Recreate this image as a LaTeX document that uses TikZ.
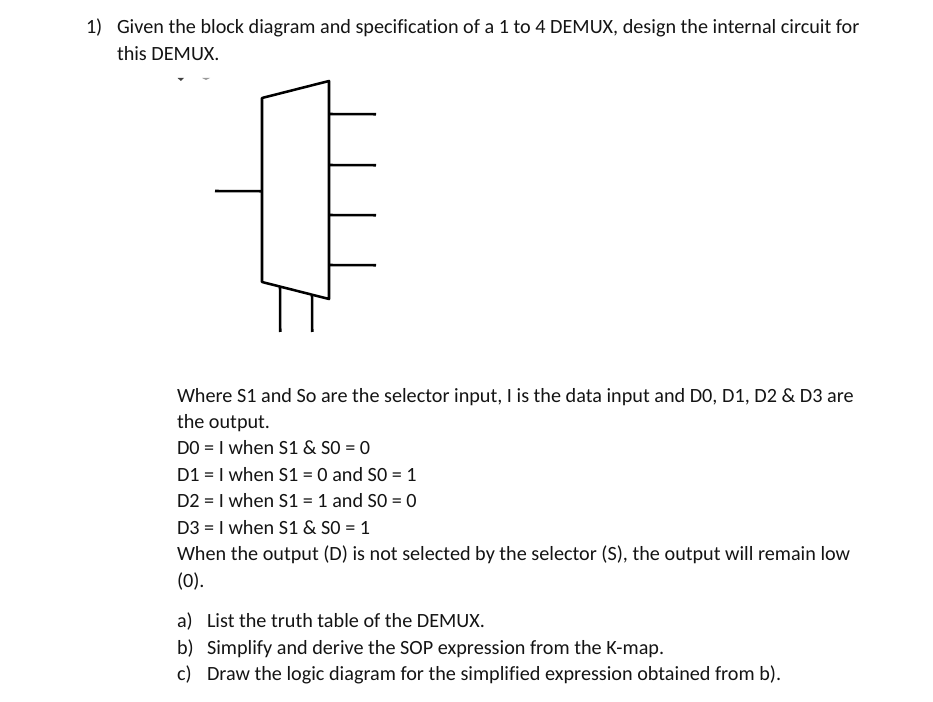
\documentclass[tikz,border=0pt]{standalone}
\usepackage{fontspec}
\setmainfont[Ligatures=NoCommon]{Carlito}
\begin{document}
\begin{tikzpicture}[x=0.75pt,y=-0.75pt,
  doc/.style={anchor=base west,inner sep=0pt,outer sep=0pt,font=\fontsize{15.15pt}{17pt}\selectfont,text=black!92},
  connline/.style={draw=black,line width=1.9pt},
  boxline/.style={draw=black,line width=1.9pt,line join=round}]
\useasboundingbox (0,0) rectangle (933,702);
\fill[white] (0,0) rectangle (933,702);
% texts
\node[doc] (n1) at (86,33.5) {1)};
\node[doc] (t1) at (117,33.5) {Given the block diagram and specification of a 1 to 4 DEMUX, design the internal circuit for};
\node[doc] (t2) at (117,61) {this DEMUX.};
\node[doc] (t3) at (177,403) {Where S1 and So are the selector input, I is the data input and D0, D1, D2 \& D3 are};
\node[doc] (t4) at (177,429) {the output.};
\node[doc] (t5) at (177,455) {D0 = I when S1 \& S0 = 0};
\node[doc] (t6) at (177,482) {D1 = I when S1 = 0 and S0 = 1};
\node[doc] (t7) at (177,508) {D2 = I when S1 = 1 and S0 = 0};
\node[doc] (t8) at (177,535) {D3 = I when S1 \& S0 = 1};
\node[doc] (t9) at (177,561) {When the output (D) is not selected by the selector (S), the output will remain low};
\node[doc] (t10) at (177,588) {(0).};
\node[doc] (a1) at (177,628) {a)};
\node[doc] (a2) at (207,628) {List the truth table of the DEMUX.};
\node[doc] (b1) at (177,654) {b)};
\node[doc] (b2) at (207,654) {Simplify and derive the SOP expression from the K-map.};
\node[doc] (c1) at (177,680) {c)};
\node[doc] (c2) at (207,680) {Draw the logic diagram for the simplified expression obtained from b).};
% block
\coordinate (tl) at (262,98);
\coordinate (tr) at (329,81);
\coordinate (br) at (329,299);
\coordinate (bl) at (262,282);
\draw[boxline] (tl) -- (tr) -- (br) -- (bl) -- cycle;
% wires
\coordinate (in0) at (215,191); \coordinate (in1) at (262,191.25);
\draw[connline] (in0) -- (in1);
\foreach \i/\yy in {0/114,1/165,2/215,3/265}{
  \coordinate (o\i a) at (329,\yy);
  \coordinate (o\i b) at (376,\yy+0.25);
  \draw[connline] (o\i a) -- (o\i b);
}
\coordinate (s0a) at (280,286.5); \coordinate (s0b) at (280.25,332);
\coordinate (s1a) at (312,294.7); \coordinate (s1b) at (312.25,332);
\draw[connline] (s0a) -- (s0b);
\draw[connline] (s1a) -- (s1b);
% scan specks
\fill[black!75] (177.5,78) -- (184,78) -- (181,81) -- cycle;
\fill[black!40] (202,78) -- (210,78) -- (206,80) -- cycle;
\end{tikzpicture}
\end{document}
